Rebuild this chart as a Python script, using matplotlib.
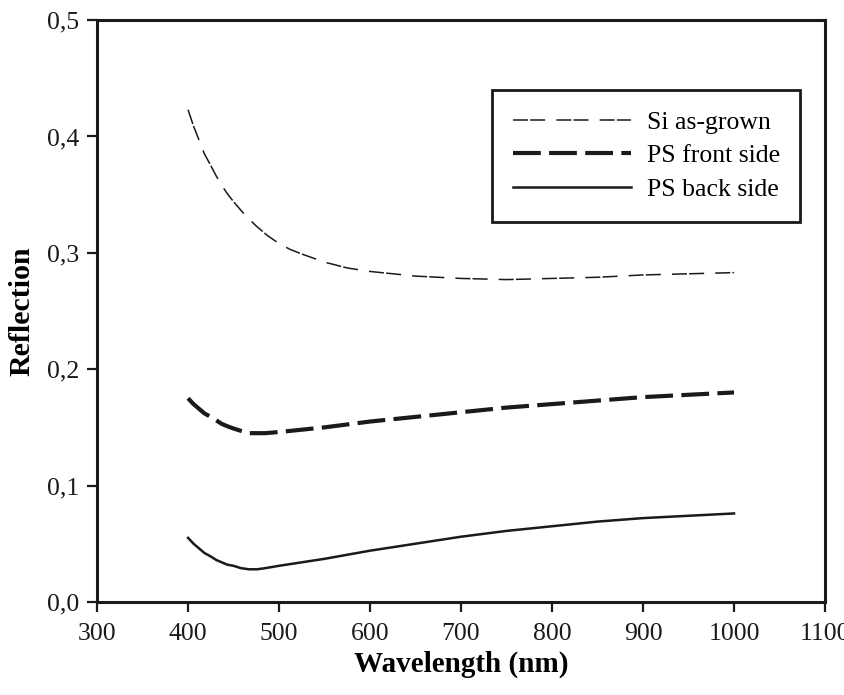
import matplotlib
matplotlib.use("Agg")
import matplotlib.pyplot as plt
from matplotlib.ticker import FuncFormatter

plt.rcParams['font.family'] = ['Liberation Serif', 'DejaVu Serif']
plt.rcParams['lines.scale_dashes'] = False

wl_si = [400, 406, 412, 418, 425, 431, 437, 443, 450, 462, 475, 487, 500, 512, 525, 550, 575, 600, 650, 700, 750, 800, 850, 900, 950, 1000]
si_asgrown = [0.423, 0.409, 0.397, 0.385, 0.375, 0.366, 0.358, 0.351, 0.344, 0.333, 0.323, 0.315, 0.308, 0.303, 0.299, 0.292, 0.287, 0.284, 0.280, 0.278, 0.277, 0.278, 0.279, 0.281, 0.282, 0.283]

wl_ps = [400, 406, 412, 418, 425, 431, 437, 443, 450, 458, 467, 476, 485, 500, 525, 550, 600, 650, 700, 750, 800, 850, 900, 950, 1000]
ps_front = [0.175, 0.170, 0.166, 0.162, 0.159, 0.156, 0.153, 0.151, 0.149, 0.147, 0.145, 0.145, 0.145, 0.146, 0.148, 0.150, 0.155, 0.159, 0.163, 0.167, 0.170, 0.173, 0.176, 0.178, 0.180]
ps_back = [0.055, 0.050, 0.046, 0.042, 0.039, 0.036, 0.034, 0.032, 0.031, 0.029, 0.028, 0.028, 0.029, 0.031, 0.034, 0.037, 0.044, 0.050, 0.056, 0.061, 0.065, 0.069, 0.072, 0.074, 0.076]

x_ticks = [300, 400, 500, 600, 700, 800, 900, 1000, 1100]
y_ticks = [0.0, 0.1, 0.2, 0.3, 0.4, 0.5]

fig = plt.figure(figsize=(8.44, 6.95), dpi=100)
ax = fig.add_axes([0.115, 0.134, 0.8625, 0.837])

ax.plot(wl_si, si_asgrown, color='#1a1a1a', lw=1.1, dashes=(10.8, 1.6, 10.8, 8.0), label='Si as-grown')
ax.plot(wl_ps, ps_front, color='#1a1a1a', lw=3.0, dashes=(20, 6), label='PS front side')
ax.plot(wl_ps, ps_back, color='#1a1a1a', lw=1.8, label='PS back side')

ax.set_xlim(300, 1100)
ax.set_ylim(0, 0.5)
ax.set_xticks(x_ticks)
ax.set_yticks(y_ticks)
ax.yaxis.set_major_formatter(FuncFormatter(lambda v, p: f"{v:.1f}".replace('.', ',')))
ax.tick_params(direction='out', length=7, width=1.6, labelsize=18.5, colors='#1a1a1a', pad=6)
ax.tick_params(axis='x', pad=8)
for s in ax.spines.values():
    s.set_linewidth(2.2)
    s.set_color('#1a1a1a')

ax.set_xlabel('Wavelength (nm)', fontsize=21, fontweight='bold', labelpad=4)
ax.set_ylabel('Reflection', fontsize=21.5, fontweight='bold', labelpad=8)

leg = ax.legend(loc='upper left', bbox_to_anchor=(0.543, 0.880), fontsize=18.5, frameon=True,
                fancybox=False, edgecolor='#1a1a1a', framealpha=1, handlelength=4.6,
                handletextpad=0.6, borderpad=0.8, labelspacing=0.42, borderaxespad=0)
leg.get_frame().set_linewidth(2.0)

fig.savefig('out.png', dpi=100)
